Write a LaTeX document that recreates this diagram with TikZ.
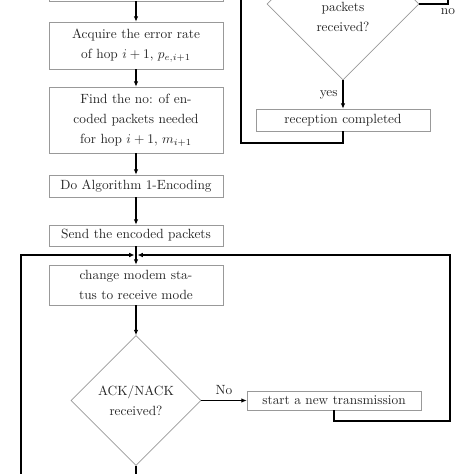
\documentclass[tikz,border=0pt]{standalone}
\usepackage{mathtools}
\usepackage{tikz}
\usetikzlibrary{shapes.geometric,arrows.meta}

\tikzset{
  box/.style={draw=black!40, line width=0.5pt, text=black!85, align=center,
    minimum width=130.5pt, inner sep=2pt},
  decision/.style={diamond, draw=black!40, line width=0.5pt, text=black!85,
    align=center, aspect=1, inner sep=0pt},
  flow/.style={black, line width=1.4pt, -{Latex[length=4pt,width=3.5pt]}},
  path/.style={black, line width=1.4pt}
}

\begin{document}
\begin{tikzpicture}[x=0.75pt, y=-0.75pt, font=\fontsize{10}{15}\selectfont]
\useasboundingbox (0,0) rectangle (474,474);
\clip (0,0) rectangle (474,474);
% left column
\node [box, minimum height=30pt] (prev) at (136,-19) {};
\node [box, minimum height=35.25pt] (acq) at (136,45.5) {Acquire the error rate\\of hop $i+1$, $p_{e,i+1}$};
\node [box, minimum height=49.5pt] (find) at (136,120) {Find the no: of en-\\coded packets needed\\for hop $i+1$, $m_{i+1}$};
\node [box, minimum height=16.5pt] (alg) at (136,186) {Do Algorithm 1-Encoding};
\node [box, minimum height=15.75pt] (send) at (136,235.5) {Send the encoded packets};
\node [box, minimum height=30pt] (modem) at (136,285) {change modem sta-\\tus to receive mode};
\node [decision, minimum width=97.5pt, minimum height=97.5pt] (ack) at (136,400.5) {ACK/NACK\\received?};
\node [box, minimum height=14.25pt] (start) at (334,400.5) {start a new transmission};
% right column
\node [decision, minimum width=114pt, minimum height=114pt] (pkt) at (343,4) {};
\node [text=black!85, align=center] (pkttext) at (343,17) {packets\\received?};
\node [box, minimum height=16.5pt] (recv) at (343,120) {reception completed};
% loose ends
\coordinate (ackend) at (136,485);
\coordinate (joinl) at (134.5,255);
\coordinate (joinr) at (137.5,255);
\coordinate (lb) at (21,485);
\coordinate (lt) at (21,255);
\coordinate (rb) at (450,421);
\coordinate (rt) at (450,255);
\coordinate (rcb) at (241,143);
\coordinate (rct) at (241,-15);
\coordinate (nocorner) at (448,4);
\coordinate (notop) at (448,-15);
\draw [flow] (prev) -- (acq);
\draw [flow] (acq) -- (find);
\draw [flow] (find) -- (alg);
\draw [flow] (alg) -- (send);
\draw [flow] (send) -- (modem);
\draw [flow] (modem) -- (ack);
\draw [path] (ack) -- (ackend);
\draw [flow] (ack) -- node [above, text=black!85] {No} (start);
\draw [flow] (start.south) |- (rb) -- (rt) -- (joinr);
\draw [flow] (lb) -- (lt) -- (joinl);
\draw [flow] (pkt) -- node [left, text=black!85] {yes} (recv);
\draw [path] (recv.south) |- (rcb) -- (rct);
\draw [path] (pkt) -- (nocorner) -- (notop);
\node [below, text=black!85] (no) at (nocorner) {no};
\end{tikzpicture}
\end{document}
